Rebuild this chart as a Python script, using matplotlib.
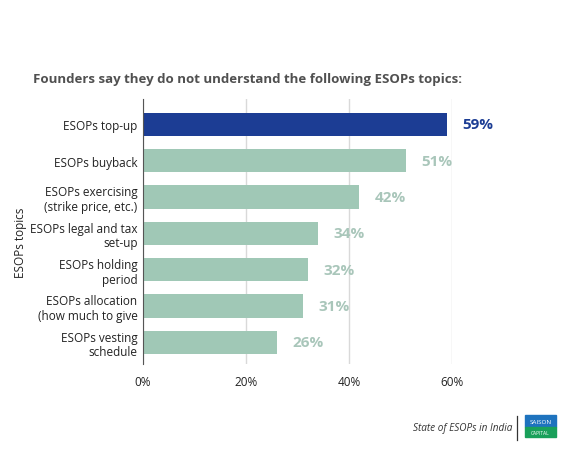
import matplotlib.pyplot as plt
from matplotlib.patches import Rectangle
from matplotlib.lines import Line2D

plt.rcParams['font.family'] = ['Open Sans', 'DejaVu Sans']

topics = [
    "ESOPs top-up",
    "ESOPs buyback",
    "ESOPs exercising\n(strike price, etc.)",
    "ESOPs legal and tax\nset-up",
    "ESOPs holding\nperiod",
    "ESOPs allocation\n(how much to give",
    "ESOPs vesting\nschedule",
]
shares = [59, 51, 42, 34, 32, 31, 26]
x_ticks = [0, 20, 40, 60]

BLUE = "#1c3d94"
GREEN = "#a0c8b6"
LABEL_GREEN = "#a9c6ba"

fig = plt.figure(figsize=(5.66, 4.52), dpi=100)
ax = fig.add_axes([0.2527, 0.1925, 0.5459, 0.5863])

colors = [BLUE] + [GREEN] * (len(shares) - 1)
ypos = list(range(len(topics)))
ax.barh(ypos, shares, height=0.64, color=colors, zorder=3)

for i, v in enumerate(shares):
    c = BLUE if i == 0 else LABEL_GREEN
    ax.annotate(f"{v}%", (v, i), xytext=(11, 0), textcoords="offset points",
                ha="left", va="center", fontsize=11, fontweight="bold",
                color=c, annotation_clip=False)

ax.set_xlim(0, 60)
ax.set_ylim(6.6, -0.7)
ax.set_xticks(x_ticks)
ax.set_xticklabels([f"{t}%" for t in x_ticks], fontsize=8.5, color="#222222")
ax.set_yticks(ypos)
ax.set_yticklabels(topics, fontsize=8.5, color="#222222", linespacing=1.15)
ax.tick_params(length=0, pad=4)
ax.tick_params(axis="x", pad=8)
ax.grid(axis="x", color="#d9d9d9", linewidth=1, zorder=0)
for s in ["top", "right", "bottom"]:
    ax.spines[s].set_visible(False)
ax.spines["left"].set_color("#555555")
ax.spines["left"].set_zorder(4)
ax.set_ylabel("ESOPs topics", fontsize=8.5, color="#222222")
ax.yaxis.set_label_coords(-0.375, 0.46)

fig.text(0.058, 0.825, "Founders say they do not understand the following ESOPs topics:",
         fontsize=9.5, fontweight="bold", color="#505050", va="center", ha="left")

# footer
fig.text(0.905, 0.051, "State of ESOPs in India", fontsize=7.2, style="italic",
         color="#333333", ha="right", va="center")
fig.add_artist(Line2D([0.914, 0.914], [0.025, 0.077], color="#333333", lw=0.9))
fig.add_artist(Rectangle((0.927, 0.053), 0.056, 0.026, color="#1e73be"))
fig.add_artist(Rectangle((0.927, 0.031), 0.056, 0.022, color="#19a05a"))
fig.text(0.955, 0.066, "SAISON", fontsize=4.5, color="white", ha="center", va="center")
fig.text(0.955, 0.042, "CAPITAL", fontsize=3.5, color="white", ha="center", va="center")

fig.savefig("out.png", dpi=100)
